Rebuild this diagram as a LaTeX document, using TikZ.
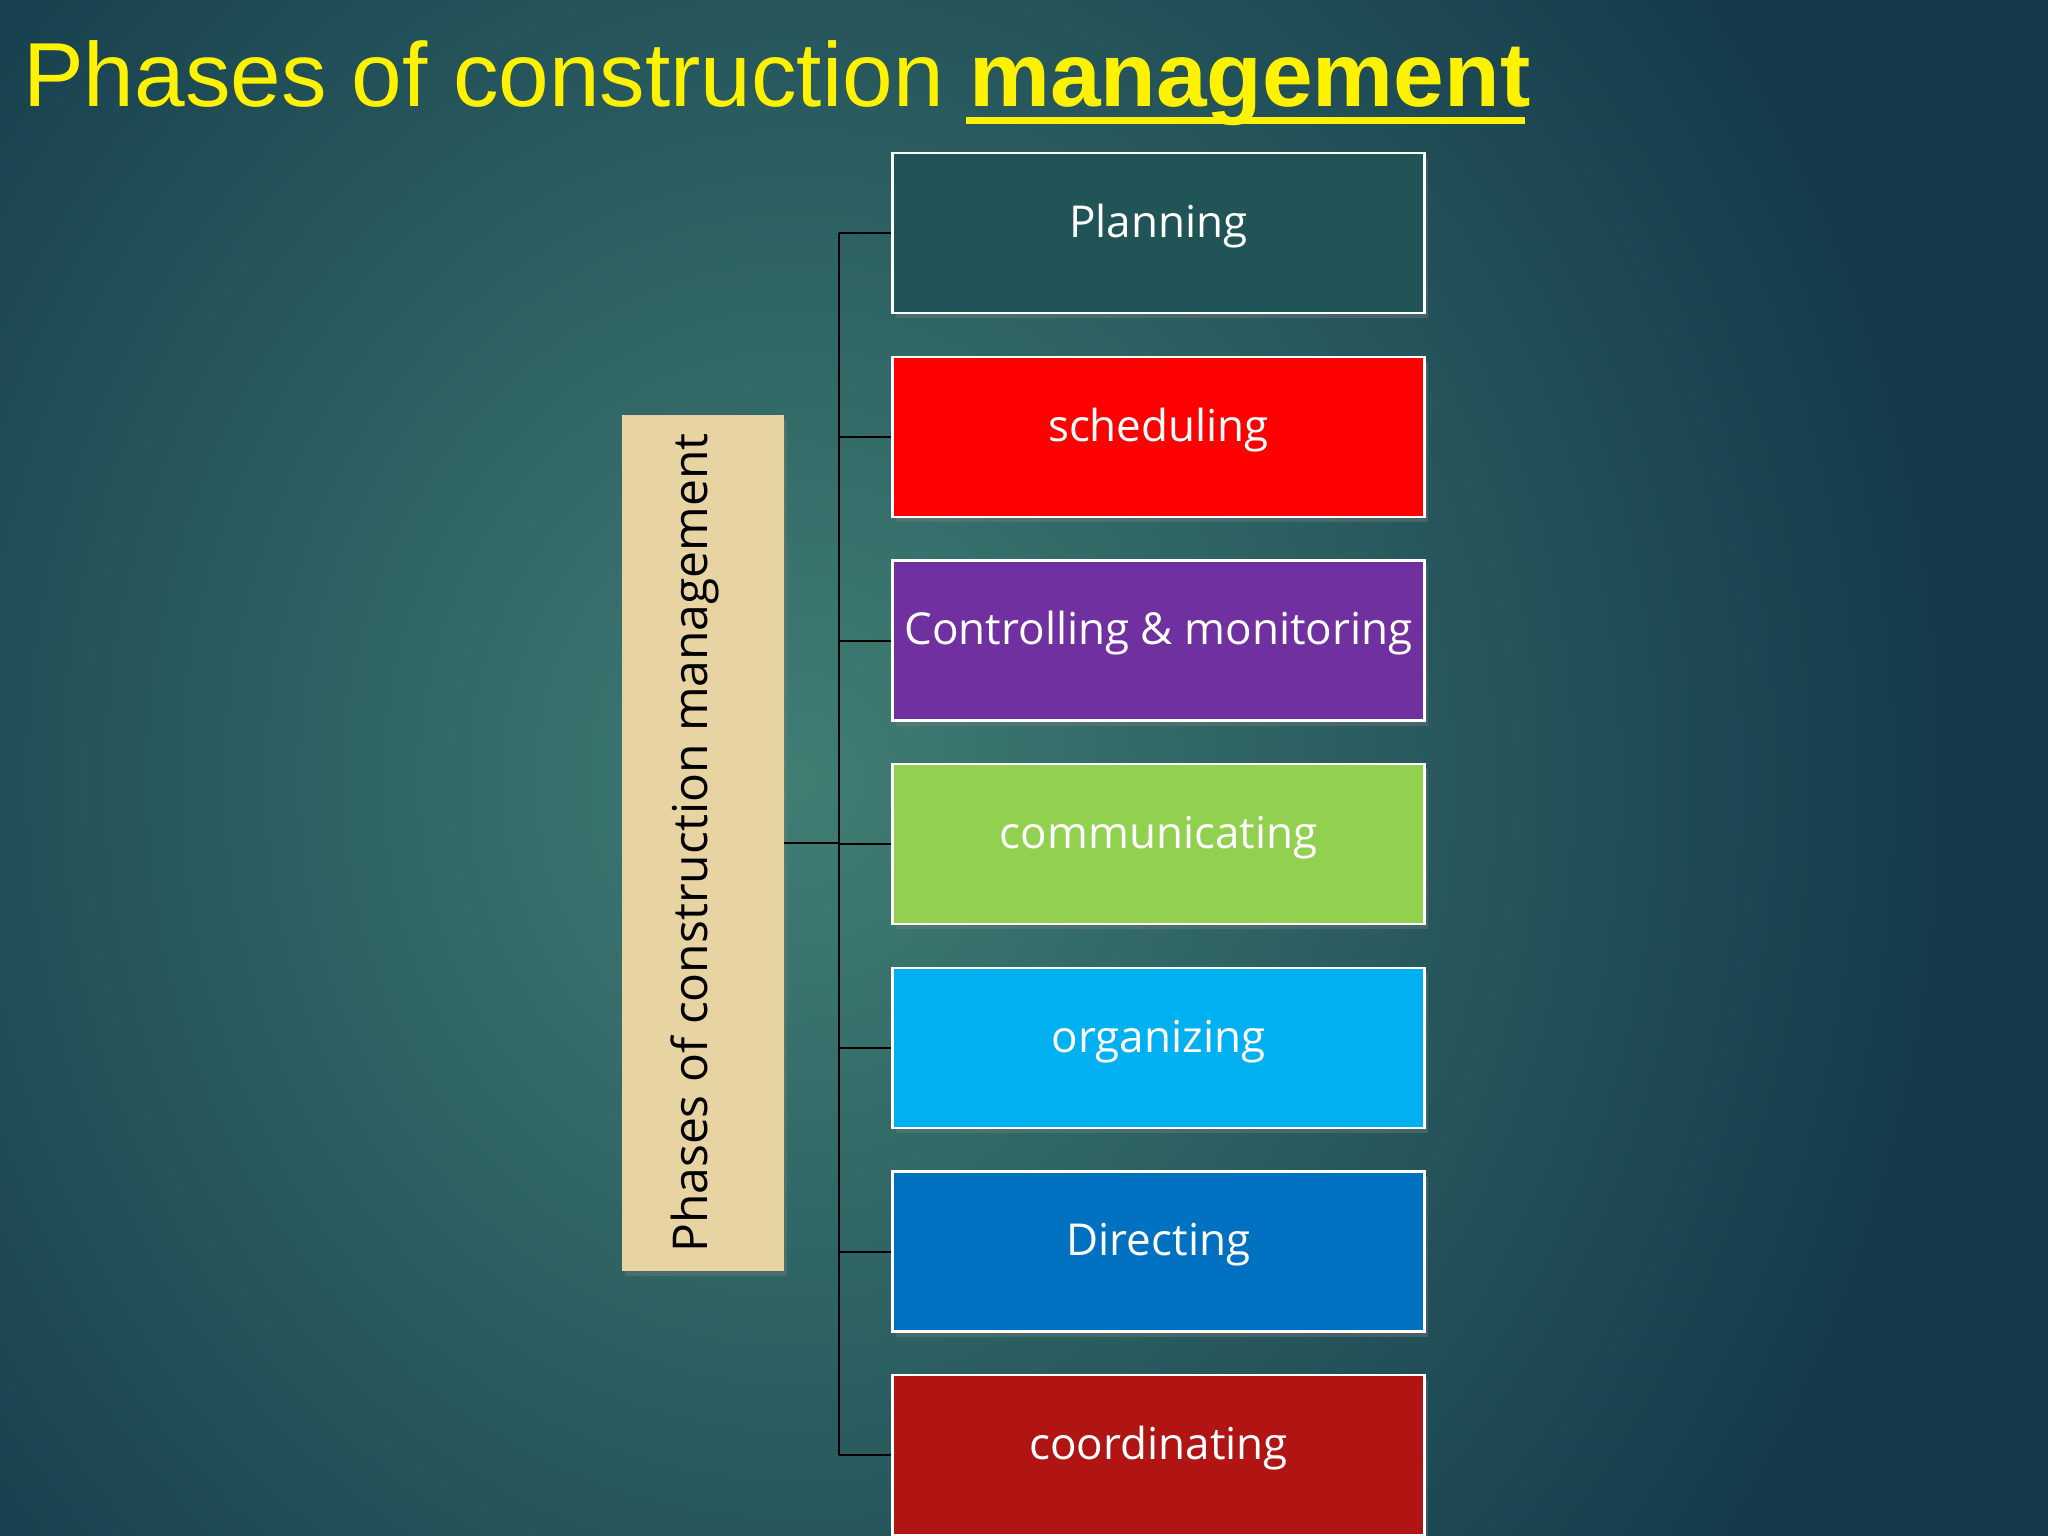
\documentclass[tikz,border=0pt]{standalone}
\usepackage{fontspec}
\setmainfont{Liberation Sans}
\newfontfamily\boxfont{Open Sans}
\usetikzlibrary{shadows}
\definecolor{bgin}{HTML}{407E74}
\definecolor{bgout}{HTML}{143A4B}
\definecolor{tan}{HTML}{E7D4A2}
\definecolor{cplan}{HTML}{215456}
\definecolor{csched}{HTML}{FF0000}
\definecolor{cctrl}{HTML}{7030A0}
\definecolor{ccomm}{HTML}{92D050}
\definecolor{corg}{HTML}{00B0F0}
\definecolor{cdir}{HTML}{0070C0}
\definecolor{ccoord}{HTML}{B01513}
\tikzset{
  phasebox/.style={draw=white, line width=2.5pt, minimum width=532pt, minimum height=160pt,
    inner sep=0pt, text=white, font=\boxfont\fontsize{44}{52}\selectfont,
    text height=32pt, text depth=24pt,
    drop shadow={opacity=0.35, shadow xshift=3pt, shadow yshift=-5pt}},
  conn/.style={draw=black, line width=2pt},
}
\begin{document}
\begin{tikzpicture}[x=1pt,y=-1pt]
\useasboundingbox (0,0) rectangle (2048,1536);
\begin{scope}
\clip (0,0) rectangle (2048,1536);
\fill[bgout] (0,0) rectangle (2048,1536);
\shade[inner color=bgin, outer color=bgout] (800,780) ellipse (1150 and 1300);
\end{scope}
% title
\node[anchor=base west, inner sep=0pt, text=yellow, font=\fontsize{91}{100}\selectfont] (title) at (23,107)
  {Phases of construction \textbf{management}};
\coordinate (ulA) at (966,121);
\coordinate (ulB) at (1525,121);
\draw[yellow, line width=7pt] (ulA) -- (ulB);
% left box
\node[fill=tan, rotate=90, minimum width=856pt, minimum height=162pt, inner sep=0pt,
  font=\boxfont\fontsize{48}{56}\selectfont, text=black, text height=38pt, text depth=30pt,
  drop shadow={opacity=0.35, shadow xshift=3pt, shadow yshift=-5pt}] (phases) at (703,843)
  {Phases of construction management};
% right boxes
\node[phasebox, fill=cplan] (b1) at (1158.5,233) {Planning};
\node[phasebox, fill=csched] (b2) at (1158.5,437) {scheduling};
\node[phasebox, fill=cctrl] (b3) at (1158.5,640.5) {Controlling \& monitoring};
\node[phasebox, fill=ccomm] (b4) at (1158.5,844) {communicating};
\node[phasebox, fill=corg] (b5) at (1158.5,1048) {organizing};
\node[phasebox, fill=cdir] (b6) at (1158.5,1251.5) {Directing};
\node[phasebox, fill=ccoord] (b7) at (1158.5,1455) {coordinating};
% connectors
\coordinate (sp) at (838.5,0);
\draw[conn] (b1.west -| sp) -- (b7.west -| sp);
\foreach \i in {1,...,7} { \draw[conn] (b\i.west -| sp) -- (b\i.west); }
\draw[conn] (phases.south) -- (phases.south -| sp);
\end{tikzpicture}
\end{document}
